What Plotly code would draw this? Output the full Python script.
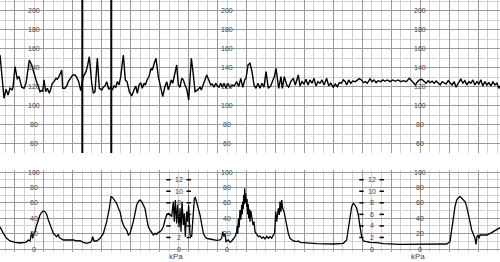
import plotly.graph_objects as go

# ---------------- data ----------------
fhr_time_s = [-30.6, -22.3, -18.1, -14.0, -9.8, -5.7, -3.6, 0.5, 5.3, 8.8, 14.4, 19.2, 23.3, 26.0, 30.2, 35.1,
              38.4, 44.0, 48.8, 52.3, 55.9, 57.9, 60.6, 64.1, 67.5, 71.6, 74.5, 77.8, 81.3, 85.5, 88.2, 92.3,
              97.3, 99.4, 104.1, 107.7, 111.0, 114.5, 120.1, 124.9, 128.4, 132.5, 136.7, 142.1, 147.7, 151.2,
              154.5, 159.5, 162.8, 166.3, 171.1, 175.2, 180.2, 183.5, 187.0, 190.6, 194.7, 198.9, 202.2, 205.7,
              209.2, 212.5, 216.1, 219.6, 222.3, 225.0, 229.1, 232.6, 237.4, 242.4, 247.1, 250.7, 254.0, 257.5,
              261.0, 264.3, 267.9, 270.6, 274.1, 278.2, 282.4, 285.1, 288.0, 292.7, 297.5, 301.6, 306.6, 310.8,
              314.9, 318.2, 321.8, 324.4, 327.4, 331.5, 335.6, 339.0, 342.5, 346.0, 349.3, 352.8, 356.4, 360.5,
              365.9, 369.4, 373.6, 377.1, 380.4, 383.9, 386.6, 390.8, 397.8, 402.0, 406.1, 409.4, 412.9, 416.5,
              419.8, 423.3, 426.8, 430.1, 433.7, 437.8, 441.3, 446.1, 450.9, 455.0, 460.0, 464.1, 468.3, 472.4,
              476.6, 479.3, 483.4, 487.5, 491.6, 495.8, 499.9, 504.1, 508.2, 512.4, 516.5, 520.7, 525.4, 530.4,
              534.5, 537.9, 541.4, 547.0, 551.7, 554.4, 558.6, 563.6, 567.7, 571.9, 577.2, 581.4, 587.6, 591.1,
              595.3, 599.4, 603.6, 607.7, 611.9, 616.0, 620.2, 624.3, 628.4, 632.6, 636.7, 640.9, 646.5, 650.6,
              654.8, 660.2, 664.3, 668.5, 672.6, 676.8, 680.9, 685.1, 688.0, 692.1, 696.3, 700.4, 705.8, 710.0,
              714.1, 718.3, 722.4, 726.6, 730.7, 736.3, 740.5, 744.6, 748.8, 752.9, 758.5, 762.7, 766.8, 772.2,
              777.8, 783.4, 788.8, 794.4, 800.0, 805.4, 811.0, 817.9, 822.8, 826.2, 830.3, 834.5, 838.6, 843.6,
              848.4, 852.5, 856.7, 860.8, 865.0, 869.1, 873.3, 877.4, 881.6, 885.7, 889.9, 894.0, 898.2, 902.3,
              906.5, 910.6, 914.8, 918.9, 924.5, 928.6, 932.8, 936.9, 941.1, 945.2, 949.4, 953.5, 957.7, 961.8,
              966.0, 970.1, 974.3, 978.4, 982.6, 986.7, 990.9, 995.0, 999.2, 1003.3, 1006.0]
fhr_bpm = [153.5, 108, 117.5, 111.5, 118.5, 116.8, 119.6, 141.2, 128, 131, 119.6, 118.5, 123.8, 136, 148.2, 143,
           136, 127.3, 120.3, 115, 116.2, 115, 127.3, 115, 118.5, 113.3, 117.5, 123.8, 125.5, 129, 128, 131.5,
           137.7, 118.5, 118.5, 121, 125.5, 128, 132.5, 132.5, 130, 125.5, 116, 130.8, 136, 143,
           151.7, 123.8, 113.3, 115, 150, 118.5, 116.8, 119.6, 121, 125.5, 117.5, 119.6, 116.8, 121,
           119.6, 125.5, 122, 130.8, 141.2, 153.5, 127.3, 125.5, 115, 110.5, 116.8, 121, 113.3, 122,
           124.5, 118.5, 123.8, 122, 127.3, 130.8, 139.5, 137.7, 143, 150, 130.8, 119.6, 109.8, 119.6,
           125.5, 116.8, 123.8, 127.3, 123.8, 132.5, 143, 122, 119.6, 129, 127.3, 122, 117.5, 106.3,
           150, 136, 115, 116, 117.5, 119.6, 116.8, 122, 132.5, 127.3, 122, 123, 119.6, 123.8,
           121, 119.6, 123.8, 119.6, 123.8, 118.5, 123.8, 119.6, 122, 121, 125.5, 120.3, 129, 119.6,
           127.3, 129, 143, 144.7, 136, 122, 118.5, 123.8, 118.5, 123.8, 119.6, 136, 118.5, 121,
           125.5, 130.8, 139.5, 118.5, 130.8, 118.5, 130.8, 122, 119.6, 125.5, 129, 122, 132.5, 121,
           125.5, 123, 128, 122, 127.3, 123.8, 129, 121, 125.5, 123.8, 127.3, 122, 129, 121,
           123.8, 119.6, 123, 120.3, 124.5, 123.8, 127.3, 125.5, 122, 127.3, 123.8, 126.2, 125.5, 127.3,
           128.6, 127.3, 124.5, 125.5, 123.8, 128.6, 125.5, 127.3, 124.5, 126.5, 125.5, 127.3, 125.9, 127.3,
           125.5, 127.3, 125.9, 127.3, 125.5, 126.5, 125.5, 129, 126.5, 123.8, 122, 125.5, 127.3, 128,
           125.2, 123.8, 126.5, 124.5, 125.9, 123.8, 126.2, 124.5, 122, 125.5, 124.5, 123, 126.5, 123.8,
           122, 125.5, 119.6, 123.8, 128, 123.8, 126.5, 122, 125.5, 123.8, 127.3, 122, 125.5, 123,
           127.3, 121, 125.5, 122, 124.5, 121, 125.5, 122, 123.8, 118.5, 121]

ua_time_s = [-30.6, -23.7, -16.8, -9.8, 0.5, 10.9, 21.2, 24.7, 28.1, 31.6, 35.1, 37.1, 38.5, 42.0, 45.4, 48.9,
             52.3, 55.8, 59.2, 62.7, 66.1, 69.6, 73.1, 76.5, 80.0, 83.4, 86.9, 90.3, 92.4, 100.7, 107.6, 114.5,
             121.4, 128.3, 135.2, 142.1, 149.0, 155.9, 159.4, 161.5, 164.2, 169.8, 176.7, 183.6, 190.5, 196.0,
             199.5, 202.9, 207.8, 211.2, 214.7, 218.1, 221.6, 226.4, 231.9, 235.4, 238.8, 242.3, 245.7, 249.2,
             252.7, 256.1, 259.6, 263.0, 266.5, 269.9, 273.4, 276.8, 280.3, 283.8, 287.2, 290.7, 294.1, 297.6,
             301.0, 304.5, 307.9, 311.4, 314.8, 318.3, 321.7, 325.2, 328.6, 330.7, 332.8, 335.6, 337.6, 340.4,
             342.5, 344.5, 346.6, 349.4, 351.4, 353.5, 356.3, 358.3, 360.4, 363.2, 366.6, 370.1, 372.2, 374.2,
             377.0, 380.4, 383.9, 387.4, 390.8, 394.3, 397.7, 404.6, 411.5, 418.4, 425.4, 428.8, 430.9, 433.6,
             435.7, 437.8, 442.6, 446.1, 449.5, 453.0, 456.5, 459.9, 461.0, 462.0, 463.5, 465.0, 466.8, 468.5,
             470.3, 471.5, 472.3, 473.5, 474.4, 475.5, 476.5, 477.5, 478.5, 480.6, 481.5, 482.7, 484.0, 484.8,
             486.0, 487.5, 489.0, 491.6, 493.7, 495.8, 497.9, 501.3, 504.8, 508.2, 511.7, 515.1, 518.6, 522.0,
             525.5, 528.9, 532.4, 535.9, 538.6, 540.7, 542.8, 546.2, 548.3, 549.7, 551.7, 553.1, 555.2, 558.0,
             560.0, 563.5, 566.9, 570.4, 577.3, 584.2, 587.7, 591.1, 598.0, 604.9, 611.8, 625.7, 660.2, 680.9,
             687.8, 691.3, 694.7, 698.2, 701.6, 705.1, 708.6, 712.0, 715.5, 718.9, 722.4, 729.3, 736.2, 750.0,
             763.8, 798.4, 832.9, 867.4, 895.1, 902.0, 905.4, 908.9, 912.3, 915.8, 919.3, 922.7, 926.2, 929.6,
             933.1, 936.5, 940.0, 943.4, 946.9, 950.3, 953.8, 955.9, 957.9, 960.0, 962.1, 964.2, 967.6, 971.1,
             978.0, 984.9, 991.8, 998.7, 1005.6]
ua_value = [29.0, 20.3, 13.9, 10.4, 8.7, 7.8, 8.7, 9.5, 11.7, 10.4, 21.6, 13.9, 18.2, 22.5, 31.2, 37.7,
            44.2, 47.6, 49.4, 48.5, 45.0, 37.7, 31.2, 24.7, 20.3, 18.2, 16.0, 19.0, 14.7, 11.7, 11.7, 10.8,
            11.7, 10.4, 10.8, 8.7, 7.4, 8.7, 10.4, 16.0, 10.4, 10.4, 13.9, 20.3, 35.5, 52.8,
            68.0, 66.7, 61.5, 59.3, 52.8, 48.5, 37.7, 29.0, 24.7, 18.2, 20.3, 26.8, 35.5, 46.3,
            57.1, 61.5, 63.6, 61.5, 58.0, 52.8, 39.8, 29.0, 24.7, 20.3, 18.2, 20.3, 19.0, 21.6,
            22.5, 24.7, 29.0, 37.7, 44.2, 46.3, 44.2, 42.0, 61.5, 35.5, 63.6, 33.3, 57.1, 29.0,
            52.8, 22.5, 61.5, 31.2, 46.3, 16.0, 48.5, 35.5, 57.1, 18.2, 16.0, 44.2, 65.8, 66.7,
            61.5, 52.8, 44.2, 31.2, 20.3, 16.0, 13.9, 13.0, 11.7, 11.3, 11.7, 13.9, 22.5, 16.0,
            20.3, 9.5, 11.7, 8.7, 10.4, 13.9, 16.0, 22.5, 30, 20, 40, 28, 50.6, 38,
            57.1, 45, 61.5, 52, 70.1, 58, 78.8, 60, 72, 55, 65, 45, 58, 40,
            52, 35.5, 50, 40, 31.2, 35.5, 22.5, 19.0, 16.0, 16.9, 13.9, 15.6, 13.0, 16.5,
            13.9, 16.0, 13.9, 18.2, 20.3, 48.5, 35.5, 52.8, 44.2, 61.5, 48.5, 63.6, 52.8, 48.5,
            42.0, 31.2, 20.3, 13.9, 10.4, 9.5, 10.4, 8.7, 8.2, 7.8, 7.4, 6.9, 6.5, 7.4,
            11.7, 26.8, 44.2, 55.0, 59.3, 57.1, 52.8, 44.2, 29.0, 16.0, 10.4, 9.1, 8.7, 8.2,
            6.9, 6.1, 6.1, 6.1, 6.5, 9.5, 22.5, 39.8, 55.0, 63.6, 66.7, 68.0, 65.8, 63.6,
            61.5, 55.0, 46.3, 35.5, 24.7, 18.2, 13.9, 6.1, 16.0, 18.2, 13.9, 18.2, 18.2, 19.0,
            18.2, 19.9, 22.5, 26.0, 27.7]

fhr_label_values = [200, 180, 160, 140, 120, 100, 80, 60]
ua_label_values = [100, 80, 60, 40, 20, 0]
kpa_values = [0, 2, 4, 6, 8, 10, 12]
label_times_s = [40, 440, 840]
kpa_scale_times_s = [340, 740]
kpa_unit_times_s = [334, 836]
event_times_s = [140, 200]
MMHG_PER_KPA = 7.5

# ---------------- figure ----------------
W, H = 500, 262
x_range = [-30.6, 1005.6]
fhr_range = [50.5, 211.3]
ua_range = [-3.9, 102.6]
top_dom = [1 - 153 / H, 1.0]
bot_dom = [1 - 252 / H, 1 - 170 / H]

MAJOR = "#9a9a9a"
MINOR = "#d2d2d2"
TXT = "#444444"

fig = go.Figure()
fig.add_trace(go.Scatter(x=fhr_time_s, y=fhr_bpm, mode="lines", xaxis="x", yaxis="y",
                         line=dict(color="black", width=1.4), hoverinfo="skip"))
fig.add_trace(go.Scatter(x=ua_time_s, y=ua_value, mode="lines", xaxis="x2", yaxis="y2",
                         line=dict(color="black", width=1.3), hoverinfo="skip"))

xcommon = dict(range=x_range, showticklabels=False, ticks="", zeroline=False, showline=False,
               showgrid=True, tick0=0, dtick=60, gridcolor=MAJOR, gridwidth=1,
               minor=dict(tick0=0, dtick=20, showgrid=True, gridcolor=MINOR, gridwidth=1, ticks=""))
ycommon = dict(showticklabels=False, ticks="", zeroline=False, showline=False,
               showgrid=True, tick0=0, dtick=20, gridcolor=MAJOR, gridwidth=1,
               minor=dict(tick0=0, dtick=10, showgrid=True, gridcolor=MINOR, gridwidth=1, ticks=""))

annotations = []
shapes = []

# FHR and UA scale labels
for t in label_times_s:
    for v in fhr_label_values:
        annotations.append(dict(x=t, y=v, xref="x", yref="y", text=str(v), showarrow=False,
                                font=dict(family="Liberation Sans, Arial", size=7, color=TXT),
                                xanchor="center", yanchor="middle"))
    for v in ua_label_values:
        annotations.append(dict(x=t, y=v, xref="x2", yref="y2", text=str(v), showarrow=False,
                                font=dict(family="Liberation Sans, Arial", size=7, color=TXT),
                                xanchor="center", yanchor="middle"))

# kPa scales
for t in kpa_scale_times_s:
    for k in kpa_values:
        yv = k * MMHG_PER_KPA
        annotations.append(dict(x=t, y=yv, xref="x2", yref="y2", text=str(k), showarrow=False,
                                font=dict(family="Liberation Sans, Arial", size=7, color=TXT),
                                xanchor="center", yanchor="middle"))
        if k > 0:
            for a, b in [(-26, -17), (16, 25)]:
                shapes.append(dict(type="line", xref="x2", yref="y2", x0=t + a, x1=t + b, y0=yv, y1=yv,
                                   line=dict(color="black", width=1.5)))
for t in kpa_unit_times_s:
    annotations.append(dict(x=t, y=0.0, xref="x2", yref="paper", text="kPa", showarrow=False,
                            font=dict(family="Liberation Sans, Arial", size=8, color=TXT),
                            xanchor="center", yanchor="bottom", yshift=-1))

# event markers
for t in event_times_s:
    shapes.append(dict(type="line", xref="x", yref="y domain", x0=t, x1=t, y0=0, y1=1,
                       line=dict(color="black", width=2)))

fig.update_layout(
    width=W, height=H, margin=dict(l=0, r=0, t=0, b=0),
    paper_bgcolor="white", plot_bgcolor="white", showlegend=False,
    xaxis=dict(domain=[0, 1], anchor="y", **xcommon),
    xaxis2=dict(domain=[0, 1], anchor="y2", matches="x", **xcommon),
    yaxis=dict(domain=top_dom, anchor="x", range=fhr_range, **ycommon),
    yaxis2=dict(domain=bot_dom, anchor="x2", range=ua_range, **ycommon),
    annotations=annotations, shapes=shapes,
)

fig.write_html("out.html")
